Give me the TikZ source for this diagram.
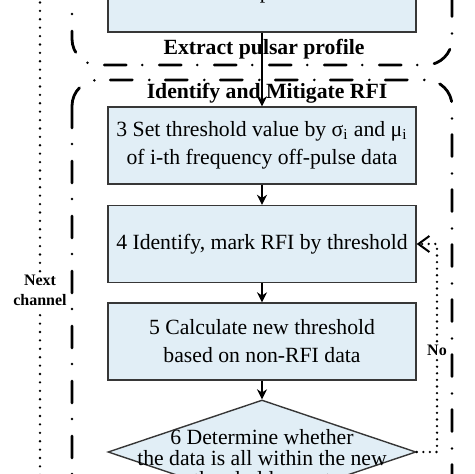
\documentclass[tikz,border=0pt]{standalone}
\usepackage{fontspec}
\setmainfont{Liberation Serif}
\usetikzlibrary{arrows.meta, shapes.geometric}

\definecolor{boxfill}{RGB}{225,238,246}
\definecolor{boxline}{RGB}{55,55,55}

\begin{document}
\begin{tikzpicture}[x=0.5pt, y=-0.5pt,
	stage/.style={draw=boxline, fill=boxfill, line width=0.7pt, minimum width=154pt, minimum height=38.5pt, inner sep=0pt, align=center, font=\fontsize{10.85pt}{14pt}\selectfont},
	decide/.style={diamond, draw=boxline, fill=boxfill, line width=0.7pt, minimum width=154pt, minimum height=52pt, inner sep=0pt},
	grpframe/.style={line width=1.4pt, line cap=round, dash pattern=on 11pt off 8pt on 0pt off 8.5pt, rounded corners=13pt},
	glabel/.style={font=\fontsize{10.85pt}{14pt}\selectfont\bfseries},
	flow/.style={line width=0.7pt, -{Stealth[length=5pt, width=5pt]}},
	dotline/.style={line width=1.3pt, line cap=round, dash pattern=on 0pt off #1},
	sidelabel/.style={font=\fontsize{8pt}{10pt}\selectfont\bfseries, align=center, inner sep=1.5pt}]
	\useasboundingbox (0,0) rectangle (474,474);
	\clip (0,0) rectangle (474,474);
	\draw[grpframe] (72,-160) rectangle (452,65);
	\draw[grpframe] (72,80) rectangle (452,640);
	\node[stage] (calc) at (262,-6.5) {2 Calculate pulsar width};
	\node[glabel] (extract) at (264,49) {Extract pulsar profile};
	\node[glabel] (mitigate) at (267,93) {Identify and Mitigate RFI};
	\node[stage] (setth) at (262,145.5) {3 Set threshold value by σ\textsubscript{i} and μ\textsubscript{i}\\of i-th frequency off-pulse data};
	\node[stage] (mark) at (262,244) {4 Identify, mark RFI by threshold};
	\node[stage] (newth) at (262,341.5) {5 Calculate new threshold\\based on non-RFI data};
	\node[decide] (check) at (262,452) {};
	\node[align=center, inner sep=0pt, font=\fontsize{10.85pt}{10.5pt}\selectfont] (checktxt) at (262,458) {6 Determine whether\\the data is all within the new\\threshold or not};
	\draw[flow] (calc) -- (setth);
	\draw[flow] (setth) -- (mark);
	\draw[flow] (mark) -- (newth);
	\draw[flow] (newth) -- (check);
	% loop back when the data is not within the new threshold
	\node[sidelabel] (no) at (437,350) {No};
	\coordinate (nobot) at (437,452);
	\coordinate (notop) at (437,244);
	\draw[dotline=3.3pt] (check.east) -- (nobot) -- (no);
	\draw[dotline=3.3pt, -{Straight Barb[length=5.5pt, width=8pt, line width=1pt]}] (no) -- (notop) -- (mark.east);
	% next channel
	\node[sidelabel] (next) at (40,290) {Next\\channel};
	\coordinate (nxbot) at (40,500);
	\coordinate (nxtop) at (40,-20);
	\draw[dotline=4.2pt] (nxbot) -- (next) -- (nxtop);
\end{tikzpicture}
\end{document}
